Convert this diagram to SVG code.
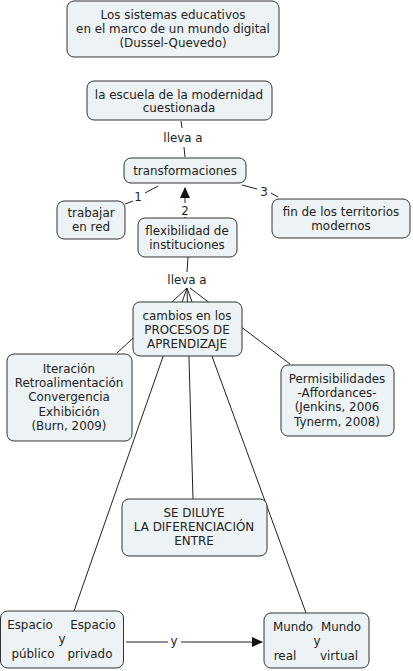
<svg xmlns="http://www.w3.org/2000/svg" width="413" height="671" viewBox="0 0 413 671">
<defs>
<style>
.n rect{fill:#edf2f4;stroke:#333;stroke-width:1}
text{font-family:"DejaVu Sans",Verdana,sans-serif;font-size:11.9px;fill:#222;text-anchor:middle;dominant-baseline:central}
.c line{stroke:#222;stroke-width:1}
</style>
<marker id="ah" markerWidth="11" markerHeight="10" refX="10" refY="5" orient="auto" markerUnits="userSpaceOnUse"><path d="M0,0 L11,5 L0,10 Z" fill="#111"/></marker>
</defs>
<rect width="413" height="671" fill="#fff"/>
<g class="c" id="connectors">
<line x1="181" y1="121" x2="182" y2="128"/>
<line x1="184" y1="147" x2="185" y2="157"/>
<line x1="158" y1="186" x2="145" y2="193"/>
<line x1="133" y1="201" x2="125" y2="204"/>
<line x1="185" y1="203" x2="185" y2="188" marker-end="url(#ah)"/>
<line x1="185" y1="217" x2="185" y2="218"/>
<line x1="242" y1="185" x2="257" y2="189"/>
<line x1="271" y1="193" x2="278" y2="197"/>
<line x1="188" y1="257" x2="187" y2="272"/>
<line x1="187" y1="288" x2="117" y2="353"/>
<line x1="187" y1="288" x2="74" y2="611"/>
<line x1="187" y1="288" x2="193" y2="499"/>
<line x1="187" y1="288" x2="306" y2="613"/>
<line x1="190" y1="288" x2="290" y2="364"/>
<line x1="126" y1="642" x2="168" y2="642"/>
<line x1="181" y1="642" x2="262" y2="642" marker-end="url(#ah)"/>
</g>
<g class="c" id="labels">
<text x="183" y="138">lleva a</text>
<text x="138" y="197">1</text>
<text x="185" y="211">2</text>
<text x="264" y="192">3</text>
<text x="187" y="280">lleva a</text>
<text x="174" y="641">y</text>
</g>
<g class="n" id="n-title"><rect x="67" y="1" width="212" height="56" rx="7"/>
<text x="173" y="15">Los sistemas educativos</text>
<text x="173" y="29">en el marco de un mundo digital</text>
<text x="173" y="43">(Dussel-Quevedo)</text></g>
<g class="n" id="n-escuela"><rect x="87" y="81" width="185" height="39" rx="7"/>
<text x="179" y="95">la escuela de la modernidad</text>
<text x="179" y="108">cuestionada</text></g>
<g class="n" id="n-transf"><rect x="124" y="158" width="122" height="25" rx="7"/>
<text x="185" y="171">transformaciones</text></g>
<g class="n" id="n-trabajar"><rect x="57" y="201" width="68" height="38" rx="7"/>
<text x="91" y="213">trabajar</text>
<text x="91" y="227">en red</text></g>
<g class="n" id="n-flex"><rect x="138" y="218" width="99" height="39" rx="7"/>
<text x="187" y="231">flexibilidad de</text>
<text x="187" y="245">instituciones</text></g>
<g class="n" id="n-fin"><rect x="272" y="199" width="138" height="39" rx="7"/>
<text x="341" y="212">fin de los territorios</text>
<text x="341" y="226">modernos</text></g>
<g class="n" id="n-cambios"><rect x="133" y="302" width="109" height="54" rx="7"/>
<text x="187" y="316">cambios en los</text>
<text x="187" y="330">PROCESOS DE</text>
<text x="187" y="344">APRENDIZAJE</text></g>
<g class="n" id="n-iter"><rect x="7" y="354" width="125" height="87" rx="7"/>
<text x="69" y="369">Iteración</text>
<text x="69" y="383">Retroalimentación</text>
<text x="69" y="397">Convergencia</text>
<text x="69" y="412">Exhibición</text>
<text x="69" y="426">(Burn, 2009)</text></g>
<g class="n" id="n-perm"><rect x="281" y="365" width="113" height="71" rx="7"/>
<text x="337" y="379">Permisibilidades</text>
<text x="337" y="393">-Affordances-</text>
<text x="337" y="407">(Jenkins, 2006</text>
<text x="337" y="422">Tynerm, 2008)</text></g>
<g class="n" id="n-diluye"><rect x="122" y="499" width="145" height="57" rx="7"/>
<text x="194" y="513">SE DILUYE</text>
<text x="194" y="527">LA DIFERENCIACIÓN</text>
<text x="194" y="541">ENTRE</text></g>
<g class="n" id="n-espacio"><rect x="0.5" y="611" width="123" height="57" rx="7"/>
<text x="30" y="625">Espacio</text>
<text x="93" y="625">Espacio</text>
<text x="62" y="639">y</text>
<text x="33" y="654">público</text>
<text x="90" y="654">privado</text></g>
<g class="n" id="n-mundo"><rect x="264" y="613" width="105" height="55" rx="7"/>
<text x="293" y="627">Mundo</text>
<text x="341" y="627">Mundo</text>
<text x="317" y="641">y</text>
<text x="285" y="656">real</text>
<text x="339" y="656">virtual</text></g>
</svg>
